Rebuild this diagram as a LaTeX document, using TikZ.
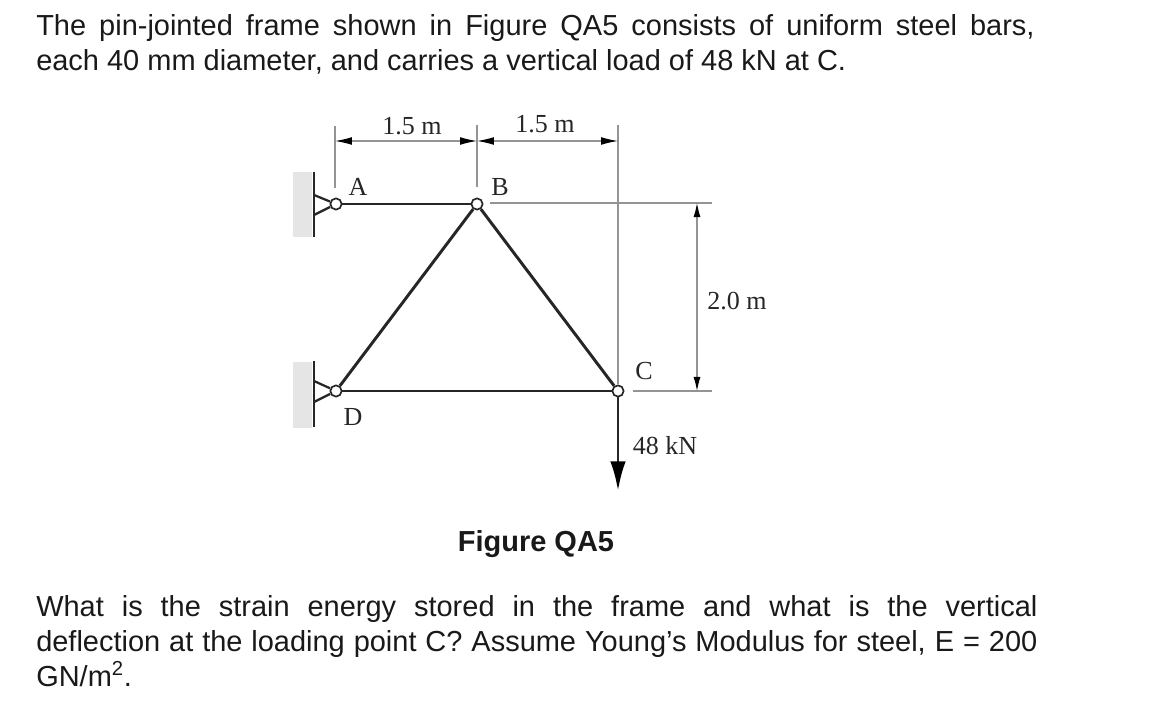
\documentclass[tikz,border=0pt]{standalone}
\usepackage{fontspec}
\setmainfont{Liberation Sans}
\newfontfamily\labelfont{Liberation Serif}
\usetikzlibrary{arrows.meta}
\tikzset{
  bar/.style={line width=2.1pt,color=black!85},
  dim/.style={line width=0.8pt,color=black!42},
  dimtip/.style={dim,{Latex[length=12pt,width=5.5pt,black]}-{Latex[length=12pt,width=5.5pt,black]}},
  dimtipv/.style={dim,{Latex[length=10pt,width=5pt,black]}-{Latex[length=10pt,width=5pt,black]}},
  pin/.style={circle,draw=black!85,line width=1.2pt,fill=white,inner sep=0pt,minimum size=8pt},
  lab/.style={font=\labelfont\fontsize{18.5}{20}\selectfont,color=black!85,inner sep=0pt},
  para/.style={font=\fontsize{20.6}{24.8}\selectfont,color=black!90,anchor=north west,inner sep=0pt,align=left}
}
\newcommand{\fullline}[2][710pt]{\makebox[#1][s]{#2}}
\begin{document}
\begin{tikzpicture}[x=0.025cm,y=-0.025cm]
\useasboundingbox (0,0) rectangle (1152,727);

\fill [black!10] (293,172) rectangle (312,237);
\fill [black!10] (293,362) rectangle (312,428);
\draw [bar] (314,172) -- (314,237);
\draw [bar] (314,361) -- (314,427);

\node [pin] (A) at (336,204) {};
\node [pin] (B) at (477,204) {};
\node [pin] (C) at (618,391) {};
\node [pin] (D) at (336,391) {};

\coordinate (Aup) at (314,195);
\coordinate (Alow) at (314,215);
\coordinate (Dup) at (314,381);
\coordinate (Dlow) at (314,402);
\draw [bar,line width=1.6pt] (Aup) -- (A) -- (Alow);
\draw [bar,line width=1.6pt] (Dup) -- (D) -- (Dlow);

\draw [bar] (A) -- (B);
\draw [bar] (B) -- (D);
\draw [bar] (B) -- (C);
\draw [bar] (D) -- (C);

\coordinate (Atop) at (335,126);
\coordinate (Abot) at (335,188);
\coordinate (Btop) at (477,125);
\coordinate (Bbot) at (477,187);
\coordinate (Ctop) at (618,125);
\coordinate (Cbot) at (618,384);
\coordinate (Bright) at (490,203);
\coordinate (Bend) at (712,203);
\coordinate (Cright) at (633,391);
\coordinate (Cend) at (712,391);
\draw [dim] (Atop) -- (Abot);
\draw [dim] (Btop) -- (Bbot);
\draw [dim] (Ctop) -- (Cbot);
\draw [dim] (Bright) -- (Bend);
\draw [dim] (Cright) -- (Cend);

\coordinate (dimA) at (335,141);
\coordinate (dimB) at (477,141);
\coordinate (dimC) at (618,141);
\coordinate (dimT) at (697,203);
\coordinate (dimL) at (697,391);
\draw [dimtip] (dimA) -- (dimB);
\draw [dimtip] (dimB) -- (dimC);
\draw [dimtipv] (dimT) -- (dimL);

\coordinate (loadend) at (618,491);
\draw [bar,-{Latex[length=21pt,width=11pt,black]}] (C) -- (loadend);

\node [lab] (labA) at (358,187) {A};
\node [lab] (labB) at (500,187) {B};
\node [lab] (labC) at (644,371) {C};
\node [lab] (labD) at (353,417) {D};
\node [lab] (dim1) at (412,126) {1.5 m};
\node [lab] (dim2) at (545,124) {1.5 m};
\node [lab] (dim3) at (737,301) {2.0 m};
\node [lab] (load) at (665,446) {48 kN};

\node [para] (top) at (36,14) {\fullline{The pin-jointed frame shown in Figure QA5 consists of uniform steel bars,}\\each 40 mm diameter, and carries a vertical load of 48 kN at C.};
\node [font=\bfseries\fontsize{20.6}{24}\selectfont,color=black!90,inner sep=0pt] (caption) at (536,544) {Figure QA5};
\node [para] (bottom) at (36,595) {\fullline[712pt]{What is the strain energy stored in the frame and what is the vertical}\\\fullline[712pt]{deflection at the loading point C? Assume Young's Modulus for steel, E = 200}\\GN/m\textsuperscript{2}.};
\end{tikzpicture}
\end{document}
